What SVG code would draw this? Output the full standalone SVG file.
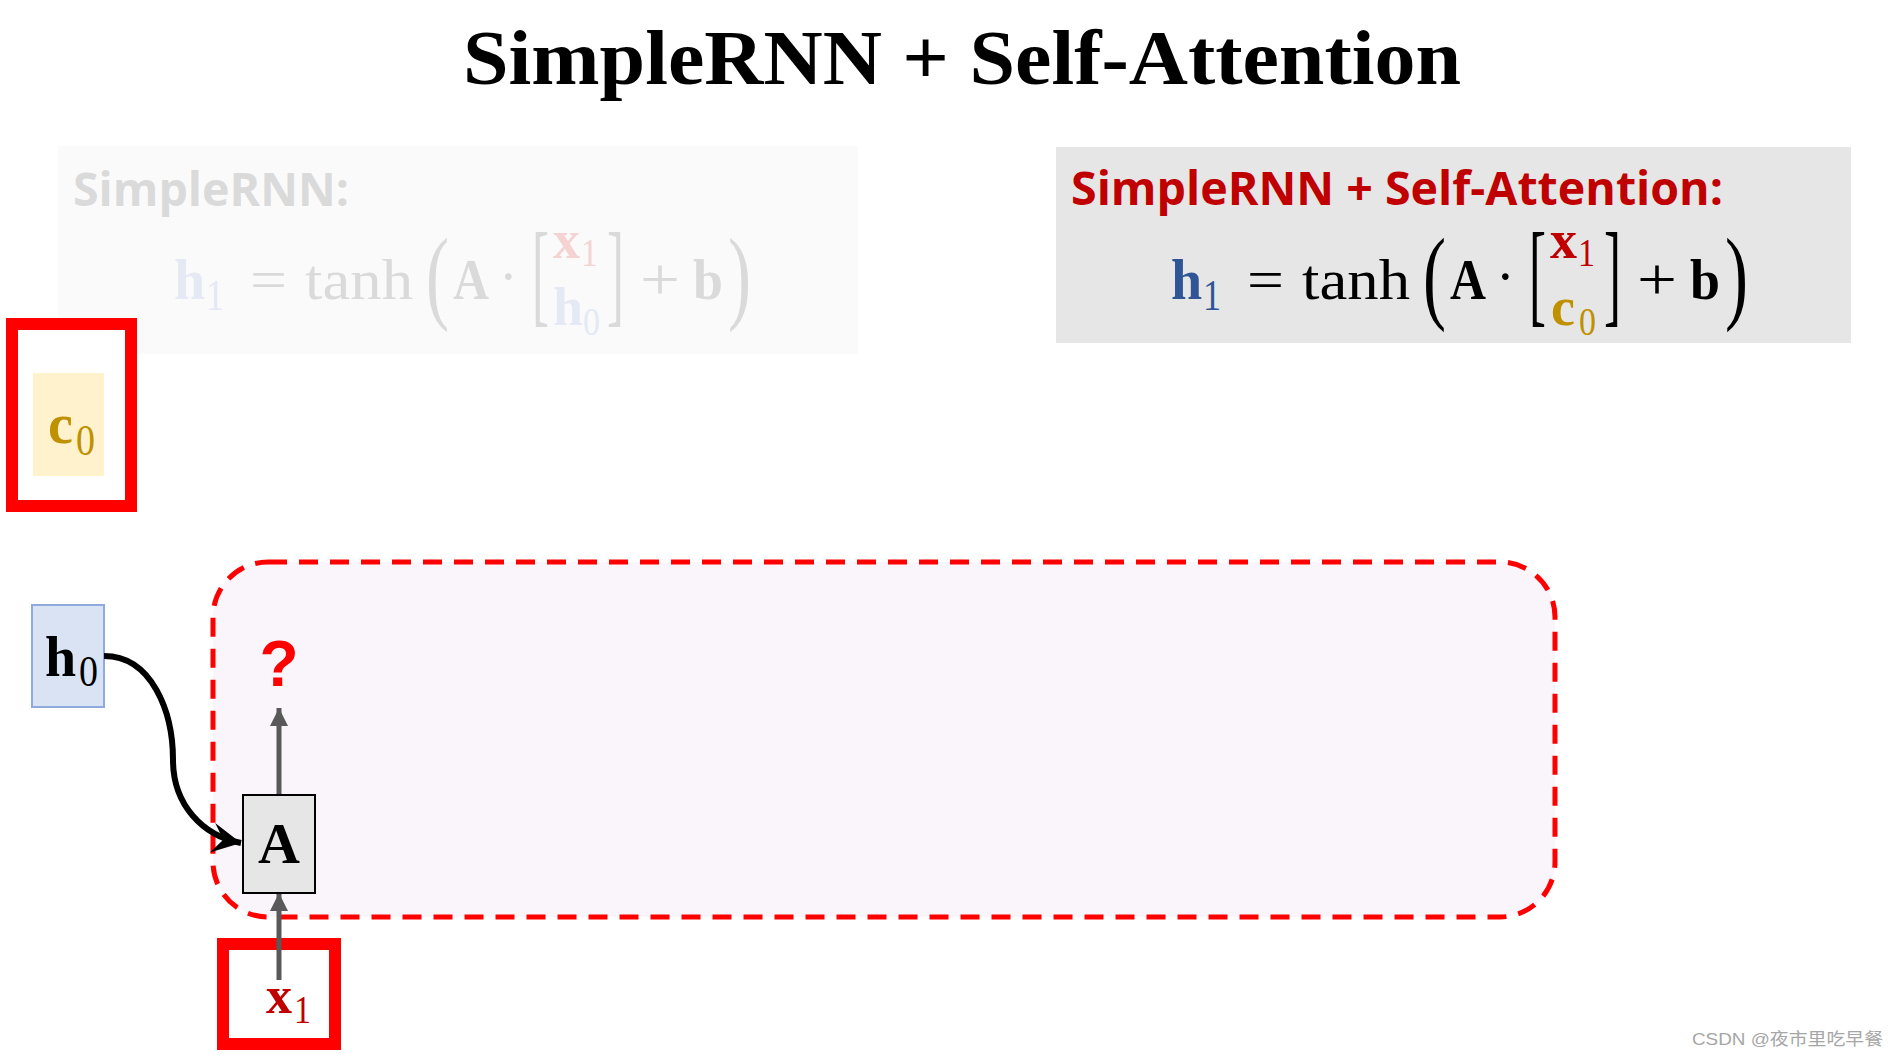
<svg xmlns="http://www.w3.org/2000/svg" width="1899" height="1058" viewBox="0 0 1899 1058">
<style>
.ser{font-family:"Liberation Serif","DejaVu Serif",serif;}
.b{font-weight:bold;}
.hd{font-family:"Open Sans","Noto Sans","Liberation Sans",sans-serif;font-weight:bold;}
.m{font-size:56px;}
.v{font-size:54px;font-weight:bold;}
.s{font-size:44px;}
.t{font-size:40px;}
</style>
<defs>
<marker id="ag" markerUnits="userSpaceOnUse" markerWidth="22" markerHeight="22" viewBox="-19 -11 22 22" refX="0" refY="0" orient="auto"><path d="M0,0 L-18,-9 L-18,9 z" fill="#595959"/></marker>
<marker id="ab" markerUnits="userSpaceOnUse" markerWidth="34" markerHeight="34" viewBox="-30 -16 34 32" refX="0" refY="0" orient="auto"><path d="M0,0 L-29,-15 L-18,0 L-29,15 z" fill="#000"/></marker>
</defs>
<rect width="1899" height="1058" fill="#fff"/>

<text id="title" class="ser b" x="463" y="84" font-size="78" textLength="998" lengthAdjust="spacingAndGlyphs" fill="#000">SimpleRNN + Self-Attention</text>

<g id="formula-simplernn">
<rect x="58" y="146" width="800" height="208" fill="#fafafa"/>
<text class="hd" x="73" y="206" font-size="46" textLength="276" lengthAdjust="spacingAndGlyphs" fill="#dadada">SimpleRNN:</text>
<g class="ser">
<text class="b m" x="174" y="299" fill="#e4e9f3">h</text>
<text class="s" x="206" y="310" fill="#e4e9f3" textLength="18" lengthAdjust="spacingAndGlyphs">1</text>
<text class="m" x="250" y="299" fill="#dadada" textLength="37" lengthAdjust="spacingAndGlyphs">=</text>
<text class="m" x="305" y="299" fill="#dadada" textLength="108" lengthAdjust="spacingAndGlyphs">tanh</text>
<text x="426" y="310" font-size="104" fill="#dadada" textLength="23" lengthAdjust="spacingAndGlyphs">(</text>
<text class="b m" x="453" y="299" fill="#dadada" textLength="36" lengthAdjust="spacingAndGlyphs">A</text>
<text class="m" x="499" y="296" fill="#dadada">·</text>
<text x="532" y="312" font-size="114" fill="#dadada" textLength="17" lengthAdjust="spacingAndGlyphs">[</text>
<text class="v" x="553" y="258" fill="#f5d3d3">x</text>
<text class="t" x="581" y="266" fill="#f5d3d3" textLength="17" lengthAdjust="spacingAndGlyphs">1</text>
<text class="v" x="553" y="325" fill="#e4e9f3">h</text>
<text class="t" x="583" y="335" fill="#e4e9f3" textLength="17" lengthAdjust="spacingAndGlyphs">0</text>
<text x="607" y="312" font-size="114" fill="#dadada" textLength="17" lengthAdjust="spacingAndGlyphs">]</text>
<text x="640" y="299" font-size="60" fill="#dadada" textLength="40" lengthAdjust="spacingAndGlyphs">+</text>
<text class="b m" x="693" y="299" fill="#dadada" textLength="30" lengthAdjust="spacingAndGlyphs">b</text>
<text x="728" y="310" font-size="104" fill="#dadada" textLength="23" lengthAdjust="spacingAndGlyphs">)</text>
</g>
</g>

<g id="formula-attention">
<rect x="1056" y="147" width="795" height="196" fill="#e6e6e6"/>
<text class="hd" x="1071" y="205" font-size="46" textLength="652" lengthAdjust="spacingAndGlyphs" fill="#c00000">SimpleRNN + Self-Attention:</text>
<g class="ser">
<text class="b m" x="1171" y="299" fill="#2f5597">h</text>
<text class="s" x="1203" y="310" fill="#2f5597" textLength="18" lengthAdjust="spacingAndGlyphs">1</text>
<text class="m" x="1247" y="299" fill="#000" textLength="37" lengthAdjust="spacingAndGlyphs">=</text>
<text class="m" x="1302" y="299" fill="#000" textLength="108" lengthAdjust="spacingAndGlyphs">tanh</text>
<text x="1423" y="310" font-size="104" fill="#000" textLength="23" lengthAdjust="spacingAndGlyphs">(</text>
<text class="b m" x="1450" y="299" fill="#000" textLength="36" lengthAdjust="spacingAndGlyphs">A</text>
<text class="m" x="1496" y="296" fill="#000">·</text>
<text x="1529" y="312" font-size="114" fill="#000" textLength="17" lengthAdjust="spacingAndGlyphs">[</text>
<text class="v" x="1550" y="258" fill="#c00000">x</text>
<text class="t" x="1578" y="266" fill="#c00000" textLength="17" lengthAdjust="spacingAndGlyphs">1</text>
<text class="v" x="1551" y="325" fill="#bf9000">c</text>
<text class="t" x="1579" y="335" fill="#bf9000" textLength="17" lengthAdjust="spacingAndGlyphs">0</text>
<text x="1604" y="312" font-size="114" fill="#000" textLength="17" lengthAdjust="spacingAndGlyphs">]</text>
<text x="1637" y="299" font-size="60" fill="#000" textLength="40" lengthAdjust="spacingAndGlyphs">+</text>
<text class="b m" x="1690" y="299" fill="#000" textLength="30" lengthAdjust="spacingAndGlyphs">b</text>
<text x="1725" y="310" font-size="104" fill="#000" textLength="23" lengthAdjust="spacingAndGlyphs">)</text>
</g>
</g>

<g id="attention-region">
<rect x="213" y="562" width="1342" height="355" rx="55" ry="55" fill="#f9f5fb" stroke="#ff0000" stroke-width="5" stroke-dasharray="19 12"/>
</g>

<g id="c0">
<rect x="12" y="324" width="119" height="182" fill="#fff" stroke="#ff0000" stroke-width="12"/>
<rect x="33" y="373" width="71" height="103" fill="#fff2cc"/>
<text class="ser b" x="48" y="443" font-size="56" fill="#bf9000">c</text>
<text class="ser" x="76" y="455" font-size="44" fill="#bf9000" textLength="19" lengthAdjust="spacingAndGlyphs">0</text>
</g>

<g id="h0">
<rect x="32" y="605" width="72" height="102" fill="#dae3f3" stroke="#8faadc" stroke-width="2"/>
<text class="ser b" x="45" y="676" font-size="56" fill="#000">h</text>
<text class="ser" x="79" y="686" font-size="44" fill="#000" textLength="19" lengthAdjust="spacingAndGlyphs">0</text>
</g>

<g id="x1">
<rect x="223" y="944" width="112" height="100" fill="#fff" stroke="#ff0000" stroke-width="12"/>
<text class="ser b" x="266" y="1013" font-size="52" fill="#c00000">x</text>
<text class="ser" x="294" y="1023" font-size="40" fill="#c00000" textLength="17" lengthAdjust="spacingAndGlyphs">1</text>
</g>

<g id="connectors">
<path d="M104,656 C152,656 173,712 173,760 C173,805 203,836 241,843" fill="none" stroke="#000" stroke-width="6" marker-end="url(#ab)"/>
<line x1="279" y1="795" x2="279" y2="708" stroke="#595959" stroke-width="5" marker-end="url(#ag)"/>
<line x1="279" y1="980" x2="279" y2="893" stroke="#595959" stroke-width="5" marker-end="url(#ag)"/>
</g>

<g id="A">
<rect x="243" y="795" width="72" height="98" fill="#e6e6e6" stroke="#000" stroke-width="2"/>
<text class="ser b" x="279" y="863" font-size="58" text-anchor="middle" fill="#000">A</text>
</g>

<g id="output">
<text x="279" y="686" font-family="Liberation Sans, Arial, sans-serif" font-weight="bold" font-size="64" text-anchor="middle" fill="#ff0000">?</text>
</g>

<text x="1692" y="1045" font-family="Liberation Sans, Noto Sans CJK SC, sans-serif" font-size="17" fill="#a6a6a6" textLength="191" lengthAdjust="spacingAndGlyphs">CSDN @夜市里吃早餐</text>
</svg>
